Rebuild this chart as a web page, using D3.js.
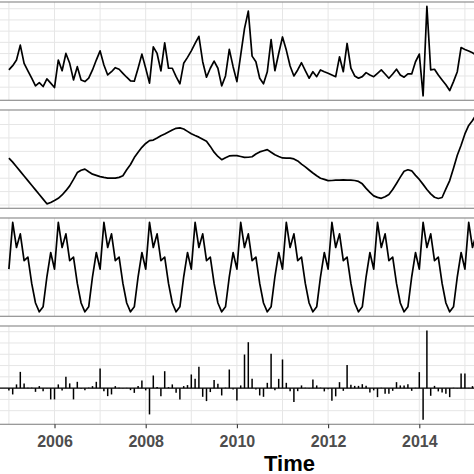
<!DOCTYPE html>
<meta charset="utf-8">
<style>
  body { margin: 0; background: #fff; }
  svg { display: block; }
</style>
<script src="https://d3js.org/d3.v7.min.js"></script>
<svg width="474" height="474"></svg>
<script>
// monthly series starting Jan 2005
const startYear = 2005;
const freq = 12;

const observed = [
  25.4, 29.2, 34.2, 47.5, 31.3, 24.5, 18.0, 11.2, 14.1, 10.6, 17.4, 13.6,
  9.7, 34.2, 24.7, 40.1, 31.3, 16.5, 28.3, 16.5, 15.0, 18.0, 25.4, 34.2,
  42.4, 29.8, 20.9, 23.8, 27.4, 26.0, 22.4, 18.9, 15.6, 15.3, 26.9, 39.5,
  26.9, 13.6, 46.0, 40.1, 24.5, 49.5, 26.9, 26.9, 19.4, 13.0, 31.3, 36.6,
  42.4, 49.0, 55.4, 32.7, 18.9, 26.9, 33.3, 26.9, 11.2, 20.0, 43.7, 28.3,
  15.0, 38.6, 62.3, 77.8, 37.7, 32.7, 18.0, 13.0, 23.8, 52.5, 24.7, 40.1,
  54.8, 43.1, 28.9, 20.0, 25.4, 31.8, 24.7, 18.0, 23.8, 19.4, 25.4, 23.8,
  22.4, 20.9, 19.4, 37.1, 23.8, 49.0, 26.9, 20.0, 18.0, 19.4, 23.0, 20.9,
  19.4, 22.4, 25.4, 21.8, 18.0, 21.8, 26.0, 20.9, 18.9, 21.8, 21.8, 32.7,
  39.5, 2.3, 82.0, 25.4, 26.0, 20.9, 16.5, 12.1, 7.0, 15.0, 23.8, 45.4,
  43.7, 42.2, 40.7, 38.6
];

const trend = [
  35.0, 32.0, 28.5, 25.1, 21.6, 18.2, 14.7, 11.3, 7.8, 4.4, 0.9, 1.9,
  3.4, 5.0, 7.5, 10.7, 14.3, 19.1, 24.2, 25.9, 26.8, 24.8, 23.0, 22.1,
  21.2, 20.6, 20.1, 20.0, 20.0, 20.6, 21.8, 26.3, 30.2, 35.4, 39.3, 43.0,
  45.9, 48.0, 48.4, 49.9, 51.6, 52.9, 54.4, 55.9, 57.2, 57.5, 56.7, 54.9,
  53.1, 51.8, 50.6, 49.1, 47.6, 43.7, 39.4, 36.2, 33.8, 35.3, 36.6, 36.8,
  36.8, 36.2, 35.5, 35.6, 36.0, 38.0, 39.6, 40.5, 41.3, 39.4, 37.5, 36.2,
  35.1, 35.0, 35.0, 34.4, 32.9, 30.5, 28.4, 26.1, 23.9, 21.8, 20.0, 19.1,
  18.2, 18.3, 18.5, 18.6, 18.8, 18.6, 18.5, 18.3, 17.6, 15.8, 12.4, 9.4,
  6.8, 5.7, 5.0, 6.2, 7.9, 11.6, 16.1, 20.8, 25.2, 26.3, 25.5, 22.1,
  19.1, 15.4, 11.6, 8.3, 5.8, 4.9, 5.6, 12.0, 18.2, 27.4, 37.1, 44.6,
  53.0, 59.3, 63.0, 67.5
];

// periodic seasonal component, Jan..Dec
const seasonPattern = [0.4, 23.7, 11.2, 18.0, 4.7, 6.4, -6.7, -16.5, -20.9, -18.4, -3.4, 8.7];

const remainder = [
  -2.0, -5.6, 3.3, 14.4, 4.2, 0.3, 0.4, -3.3, 1.8, -2.7, -0.4, -10.0,
  -10.0, 3.3, -2.0, 10.0, 4.2, -10.0, 5.6, -0.5, -1.8, 0.4, 1.8, 5.6,
  17.4, -2.7, -7.1, -5.6, 1.8, 0.3, -0.3, 0.2, -1.8, -4.2, 1.8, 6.8,
  -2.0, -23.3, 11.2, 0.9, -7.1, 15.0, 0.9, 3.3, -4.2, -10.0, 1.8, 2.7,
  12.1, 8.2, 18.9, -7.7, -11.5, -3.5, 7.1, 3.8, -6.5, 0.4, 16.5, -1.2,
  -10.9, 2.4, 29.8, 40.7, 8.2, -1.2, -6.5, -7.7, 4.7, 30.4, -1.8, 8.2,
  25.4, 4.7, -2.7, -12.4, -2.7, 2.4, 0.3, -0.3, 7.7, 2.4, 0.4, -2.9,
  -0.9, -11.2, -7.3, 5.3, -2.4, 20.6, 2.9, 2.0, 2.0, 3.5, 2.0, -3.8,
  -2.0, -8.0, 0.3, -5.0, -5.0, -2.4, 5.3, 2.4, 2.4, 3.5, -2.4, 0.3,
  14.2, -28.1, 51.1, -6.8, 2.0, -2.9, -3.8, -5.0, -8.0, 0.3, -0.2, 13.0,
  13.0, 0.2, 1.8, 0.4
];

const yearGrid = [2005, 2006, 2007, 2008, 2009, 2010, 2011, 2012, 2013, 2014, 2015];
const yearLabels = [2006, 2008, 2010, 2012, 2014];

const svg = d3.select('svg');

const times = observed.map((d, i) => startYear + i / freq);
const seasonal = observed.map((d, i) => seasonPattern[i % freq]);

const x = d3.scaleLinear().domain([2006, 2014]).range([54.5, 419.3]);
const tExt = d3.extent(times);
const tPad = (tExt[1] - tExt[0]) * 0.05;
const px0 = x(tExt[0] - tPad), px1 = x(tExt[1] + tPad);

const panelTop = 2, panelH = 98.3, panelStep = 108;

const panels = [
  {name: 'data', values: observed, kind: 'line'},
  {name: 'trend', values: trend, kind: 'line'},
  {name: 'seasonal', values: seasonal, kind: 'line'},
  {name: 'remainder', values: remainder, kind: 'bar'}
];

panels.forEach((p, k) => {
  const top = panelTop + k * panelStep;
  const bottom = top + panelH;
  const ext = d3.extent(p.values.concat(p.kind === 'bar' ? [0] : []));
  const pad = (ext[1] - ext[0]) * 0.05;
  const y = d3.scaleLinear().domain([ext[0] - pad, ext[1] + pad]).range([bottom, top]);

  const g = svg.append('g');

  g.append('rect')
    .attr('x', px0).attr('y', top)
    .attr('width', px1 - px0).attr('height', panelH)
    .attr('fill', '#fff');

  // grid
  g.selectAll('.hg')
    .data(y.ticks(8).filter(v => y(v) > top + 3 && y(v) < bottom - 3))
    .join('line')
    .attr('x1', px0).attr('x2', px1)
    .attr('y1', d => y(d)).attr('y2', d => y(d))
    .attr('stroke', '#e6e6e6').attr('stroke-width', 1);

  g.selectAll('.vg')
    .data(yearGrid)
    .join('line')
    .attr('x1', d => x(d)).attr('x2', d => x(d))
    .attr('y1', top).attr('y2', bottom)
    .attr('stroke', '#e6e6e6').attr('stroke-width', 1);

  if (p.kind === 'line') {
    const line = d3.line()
      .x((d, i) => x(times[i]))
      .y(d => y(d));
    g.append('path')
      .datum(p.values)
      .attr('d', line)
      .attr('fill', 'none')
      .attr('stroke', '#000')
      .attr('stroke-width', 1.7)
      .attr('stroke-linejoin', 'round');
  } else {
    g.append('line')
      .attr('x1', px0).attr('x2', px1)
      .attr('y1', y(0)).attr('y2', y(0))
      .attr('stroke', '#000').attr('stroke-width', 1.1);
    g.selectAll('.bar')
      .data(p.values)
      .join('line')
      .attr('x1', (d, i) => x(times[i])).attr('x2', (d, i) => x(times[i]))
      .attr('y1', y(0)).attr('y2', d => y(d))
      .attr('stroke', '#000').attr('stroke-width', 1.5);
  }

  g.append('rect')
    .attr('x', px0).attr('y', top)
    .attr('width', px1 - px0).attr('height', panelH)
    .attr('fill', 'none')
    .attr('stroke', '#8f8f8f')
    .attr('stroke-width', 1.2);

  if (k === panels.length - 1) {
    const axis = svg.append('g')
      .attr('transform', `translate(0,${bottom})`)
      .call(d3.axisBottom(x).tickValues(yearLabels).tickFormat(d3.format('d')).tickSize(4).tickPadding(7));
    axis.select('.domain').remove();
    axis.selectAll('line').attr('stroke', '#333').attr('stroke-width', 1.1);
    axis.selectAll('text')
      .attr('fill', '#4d4d4d')
      .style('font-family', 'Liberation Sans, Arial, sans-serif')
      .style('font-weight', 'bold')
      .style('font-size', '16px');
  }
});

svg.append('text')
  .attr('x', 289.5)
  .attr('y', 470.5)
  .attr('text-anchor', 'middle')
  .style('font-family', 'Liberation Sans, Arial, sans-serif')
  .style('font-weight', 'bold')
  .style('font-size', '22px')
  .attr('fill', '#000')
  .text('Time');
</script>
